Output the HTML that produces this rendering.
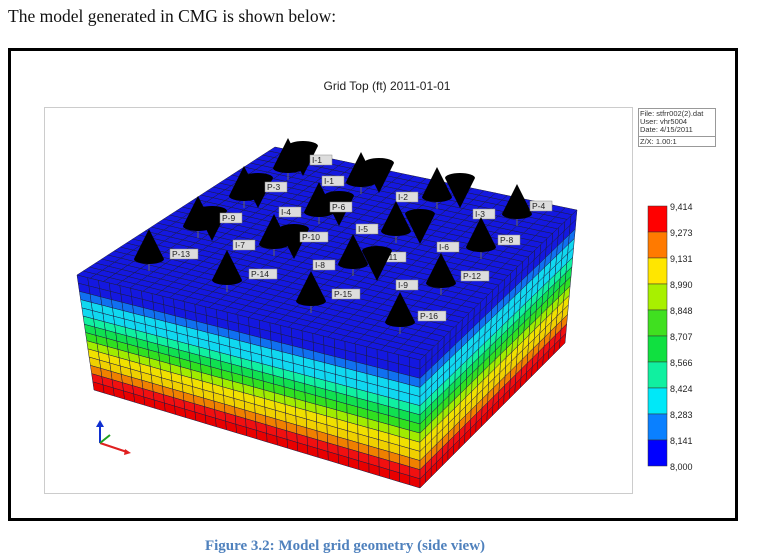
<!DOCTYPE html>
<html><head><meta charset="utf-8"><style>
body{margin:0;background:#fff;width:768px;height:557px;overflow:hidden;position:relative;font-family:"Liberation Sans",sans-serif}
.t{position:absolute;left:8px;top:6px;font-family:"Liberation Serif",serif;font-size:17.5px;color:#111}
.cap{position:absolute;left:0;width:690px;text-align:center;top:538px;font-family:"Liberation Serif",serif;font-weight:bold;font-size:15px;color:#4f81bd}
</style></head><body>
<div class="t">The model generated in CMG is shown below:</div>
<svg id="s" width="768" height="557" style="position:absolute;left:0;top:0">
<rect x="9.5" y="49.5" width="727" height="470" fill="none" stroke="#000" stroke-width="3"/>
<rect x="44.5" y="107.5" width="588" height="386" fill="#fff" stroke="#ccc" stroke-width="1"/>
<text x="387" y="90" font-size="12" text-anchor="middle" fill="#222">Grid Top (ft) 2011-01-01</text>
<g id="g"></g>
<rect x="638.5" y="108.5" width="77" height="38" fill="#fff" stroke="#999"/>
<line x1="638" y1="136.5" x2="716" y2="136.5" stroke="#999"/>
<text font-size="7.5" fill="#333"><tspan x="640" y="116">File: stfrr002(2).dat</tspan><tspan x="640" y="124">User:  vhr5004</tspan><tspan x="640" y="132">Date: 4/15/2011</tspan><tspan x="640" y="144">Z/X: 1.00:1</tspan></text>
<g id="cb"></g>
<g stroke-width="2" fill="none">
<line x1="100" y1="443" x2="100" y2="425" stroke="#1030d0"/>
<line x1="100" y1="443" x2="127" y2="452" stroke="#e02020"/>
<line x1="100" y1="443" x2="110" y2="435" stroke="#20a020"/>
</g>
<polygon points="96,427 104,427 100,420" fill="#1030d0"/>
<polygon points="125,449 131,453 124,455" fill="#e02020"/>
</svg>
<div class="cap">Figure 3.2: Model grid geometry (side view)</div>
<script>
const g=document.getElementById('g');let h='';
function bl(P,u,v){const[a,b,c,d]=P;return[(1-u)*(1-v)*a[0]+u*(1-v)*b[0]+u*v*c[0]+(1-u)*v*d[0],(1-u)*(1-v)*a[1]+u*(1-v)*b[1]+u*v*c[1]+(1-u)*v*d[1]];}
function face(P,nu,nv,col){for(let j=0;j<nv;j++)for(let i=0;i<nu;i++){const p=[bl(P,i/nu,j/nv),bl(P,(i+1)/nu,j/nv),bl(P,(i+1)/nu,(j+1)/nv),bl(P,i/nu,(j+1)/nv)];h+=`<polygon points="${p.map(q=>q[0].toFixed(1)+','+q[1].toFixed(1)).join(' ')}" fill="${col(j)}" stroke="#1a1a40" stroke-width="0.5"/>`;}}
const rows=['#1418e0','#1418e0','#1070f0','#10d8f0','#10d8f0','#10f0a0','#10e050','#30e020','#a0ec00','#f0e000','#f0d000','#f08000','#f01010','#e80000'];
face([[77,275],[275,147],[577,210],[420,360]],32,26,()=> '#1418e0');
face([[77,275],[420,360],[420,488],[94,390]],32,14,j=>rows[j]);
face([[420,360],[577,210],[565,343],[420,488]],26,14,j=>rows[j]);
function cone(x,y,inv){const w=15,hh=30;if(!inv){h+=`<path d="M${x},${y} L${x-w},${y+hh} A${w},5 0 0 0 ${x+w},${y+hh} Z" fill="#000"/><line x1="${x}" y1="${y+hh+5}" x2="${x}" y2="${y+hh+12}" stroke="#666"/>`;}else{h+=`<path d="M${x},${y} L${x-w},${y-hh} A${w},5 0 0 1 ${x+w},${y-hh} Z" fill="#000"/>`;}}
function bow(x1,y1,x2,y2){cone(x1,y1);cone(x2,y2,1);}
function lab(x,y,t){const w=t.length*6+4;h+=`<rect x="${x}" y="${y-8}" width="${w}" height="10" fill="#ddd" stroke="#888" stroke-width="0.5"/><text x="${x+2}" y="${y}" font-size="8.5" fill="#222">${t}</text>`;}
bow(288,138,303,176);lab(310,163,'I-1');
bow(361,152,379,193);lab(322,184,'I-1');
bow(437,167,460,208);lab(396,200,'I-2');
cone(517,184);lab(530,209,'P-4');
bow(244,166,258,208);lab(265,190,'P-3');
bow(319,182,339,226);lab(330,210,'P-6');
bow(198,196,212,241);lab(220,221,'P-9');
lab(279,215,'I-4');
bow(274,214,294,259);lab(300,240,'P-10');
bow(396,201,420,244);lab(378,260,'P-11');
lab(473,217,'I-3');cone(481,217);lab(498,243,'P-8');
cone(149,229);lab(170,257,'P-13');
lab(233,248,'I-7');cone(227,250);lab(249,277,'P-14');
lab(356,232,'I-5');bow(353,234,377,281);
lab(437,250,'I-6');cone(441,253);lab(461,279,'P-12');
lab(313,268,'I-8');cone(311,271);lab(332,297,'P-15');
lab(396,288,'I-9');cone(400,292);lab(418,319,'P-16');
g.innerHTML=h;
const cols=['#ff0000','#ff7a00','#ffe600','#a8f000','#40e020','#10e040','#10f0a0','#00e8f8','#0a80ff','#0000ff'];
const labs=['9,414','9,273','9,131','8,990','8,848','8,707','8,566','8,424','8,283','8,141','8,000'];
let c='';const y0=206,dy=26;
cols.forEach((col,i)=>{c+=`<rect x="648" y="${y0+i*dy}" width="19" height="${dy}" fill="${col}" stroke="#333" stroke-width="0.5"/>`});
labs.forEach((t,i)=>{c+=`<text x="670" y="${y0+i*dy+4}" font-size="9" fill="#222">${t}</text>`});
document.getElementById('cb').innerHTML=c;
</script>
</body></html>
